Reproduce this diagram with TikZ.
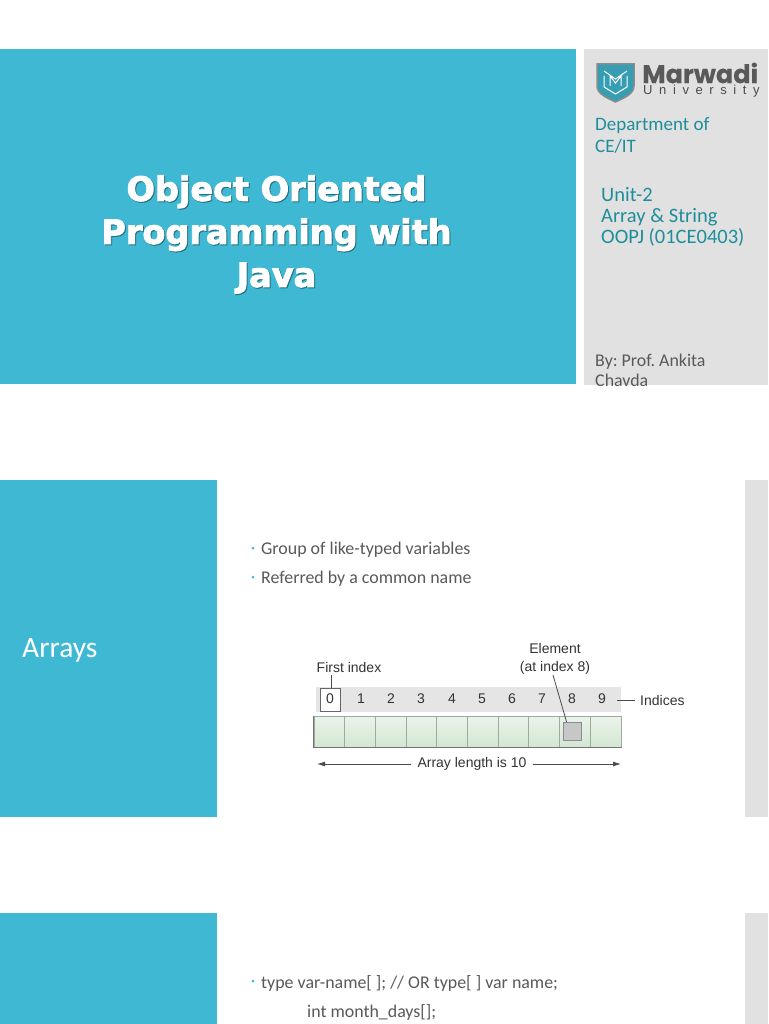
\documentclass[tikz,border=0pt]{standalone}
\usepackage{fontspec}
\setmainfont{Carlito}
\newfontfamily\headfont{Liberation Sans}
\newfontfamily\titlefont[BoldFeatures={FakeBold=2.6}]{DejaVu Sans}
\newfontfamily\brandfont[BoldFeatures={FakeBold=0.3}]{Poppins}
\usetikzlibrary{calc,shadows,arrows.meta}
\definecolor{slideteal}{HTML}{3FB9D3}
\definecolor{sidegrey}{HTML}{E1E1E1}
\definecolor{deptteal}{HTML}{1E8E9B}
\definecolor{bodygrey}{HTML}{595959}
\definecolor{cellgreen}{HTML}{D3E6D3}
\tikzset{
	titletext/.style={font=\titlefont\bfseries\fontsize{33.5}{43}\selectfont, text=white, align=center, inner sep=0pt},
	depttext/.style={font=\frenchspacing\fontsize{19}{22}\selectfont, text=deptteal, align=left, anchor=north west, inner sep=0pt},
	bodytext/.style={font=\frenchspacing\fontsize{17.9}{20}\selectfont, text=bodygrey, anchor=west, inner sep=0pt},
	figtext/.style={font=\headfont\fontsize{14}{18}\selectfont, text=black!80, inner sep=0pt, align=center},
	bulletdot/.style={circle, fill=slideteal, inner sep=0pt, minimum size=3pt},
	cellbox/.style={draw=black!25!cellgreen, line width=1pt, top color=cellgreen!45, bottom color=cellgreen, minimum width=30.7pt, minimum height=31pt, inner sep=0pt},
	figline/.style={draw=black!70, line width=0.8pt}
}
\begin{document}
\begin{tikzpicture}[x=1pt,y=-1pt]
	\useasboundingbox (0,0) rectangle (768,1024);
	\fill[white] (0,0) rectangle (768,1024);

	% first slide
	\fill[slideteal] (0,49) rectangle (576,384);
	\fill[sidegrey] (584,49) rectangle (768,385);
	\node[titletext, text=slideteal!60!black] at (277.5,235.5) {Object Oriented\\Programming with\\Java};
	\node[titletext] (title) at (276.5,234.5) {Object Oriented\\Programming with\\Java};

	% logo
	\draw[fill=slideteal!85!black, draw=black!45, line width=1.5pt] (597,64) -- (634,64) -- (634,86) .. controls (634,94) and (624,98) .. (615.5,102) .. controls (607,98) and (597,94) .. (597,86) -- cycle;
	\draw[white, line width=1pt] (604,71) -- (615.5,79) -- (627,71) (604,76) -- (604,87) -- (615.5,94) -- (627,87) -- (627,76) (610,86) -- (610,76) -- (615.5,83) -- (621,76) -- (621,86);
	\node[font=\brandfont\bfseries\fontsize{25.5}{25}\selectfont, text=black!65, anchor=west, inner sep=0pt] (brand) at (642,73) {Marwadi};
	\node[font=\headfont\fontsize{13}{13}\selectfont, text=black!70, anchor=west, inner sep=0pt] (brandsub) at (643,91.5) {U\hspace{6.6pt}n\hspace{6.6pt}i\hspace{6.6pt}v\hspace{6.6pt}e\hspace{6.6pt}r\hspace{6.6pt}s\hspace{6.6pt}i\hspace{6.6pt}t\hspace{6.6pt}y};

	\node[depttext] (dept) at (595,117) {Department of\\CE/IT};
	\node[depttext, font=\frenchspacing\fontsize{20.5}{21}\selectfont] (unit) at (601,187) {Unit-2\\Array \& String\\OOPJ (01CE0403)};
	\node[depttext, text=bodygrey, font=\frenchspacing\fontsize{17.9}{20}\selectfont] (by) at (595,354) {By: Prof. Ankita\\Chavda};
	\fill[white] (584,386) rectangle (768,400);

	% second slide
	\fill[slideteal] (0,480) rectangle (217,817);
	\fill[sidegrey] (745,480) rectangle (768,817);
	\node[font=\fontsize{29.5}{30}\selectfont, text=white, anchor=west, inner sep=0pt] (arrays) at (22,650) {Arrays};
	\node[bulletdot] (dota) at (253,548) {};
	\node[bodytext] (lineA) at (261,550) {Group of like-typed variables};
	\node[bulletdot] (dotb) at (253,577) {};
	\node[bodytext] (lineB) at (261,579) {Referred by a common name};

	% array figure
	\fill[black!10] (316,687) rectangle (621,712);
	\node[draw=black!60, fill=white, line width=0.8pt, minimum width=20pt, minimum height=23pt, inner sep=0pt] (zero) at (330,699.5) {};
	\foreach \i/\cx in {0/330,1/361,2/391,3/421,4/452,5/482,6/512,7/542,8/572,9/602}{
		\node[figtext] (idx\i) at (\cx,699) {\i};
	}
	\foreach \i in {0,...,9}{
		\node[cellbox] (cell\i) at ({329.4+30.7*\i},731.5) {};
	}
	\draw[black!55, line width=1.2pt] (cell0.north west) -- (cell0.south west) -- (cell9.south east);
	\node[draw=black!45, fill=black!22, line width=0.8pt, minimum width=18pt, minimum height=18pt, inner sep=0pt] (elem) at (572,731.5) {};

	\node[figtext] (first) at (349,667) {First index};
	\node[figtext] (element) at (555,658.5) {Element\\(at index 8)};
	\node[figtext, anchor=west] (indices) at (640,700) {Indices};
	\node[figtext] (length) at (472,764) {Array length is 10};
	\coordinate (leftend) at (317,764);
	\coordinate (rightend) at (621,764);
	\coordinate (firsttop) at (331,675);
	\coordinate (elemtop) at (553,675);
	\coordinate (indstart) at (617,700);

	\draw[figline] (firsttop) -- (zero.north -| firsttop);
	\draw[figline] (elemtop) -- ($(elem.north west)+(4,0)$);
	\draw[figline, line width=1pt] (indstart) -- (635,700);
	\draw[figline, -{Latex[length=8pt,width=5pt]}] (length.west) ++(-6,0) -- (leftend);
	\draw[figline, -{Latex[length=8pt,width=5pt]}] (length.east) ++(6,0) -- (rightend);

	% third slide
	\fill[slideteal] (0,913) rectangle (217,1024);
	\fill[sidegrey] (745,913) rectangle (768,1024);
	\node[bulletdot] (dotc) at (253,981) {};
	\node[bodytext] (lineC) at (261,983) {type var-name[ ]; // OR type[ ] var name;};
	\node[bodytext] (lineD) at (307,1012) {int month\_days[];};
\end{tikzpicture}
\end{document}
